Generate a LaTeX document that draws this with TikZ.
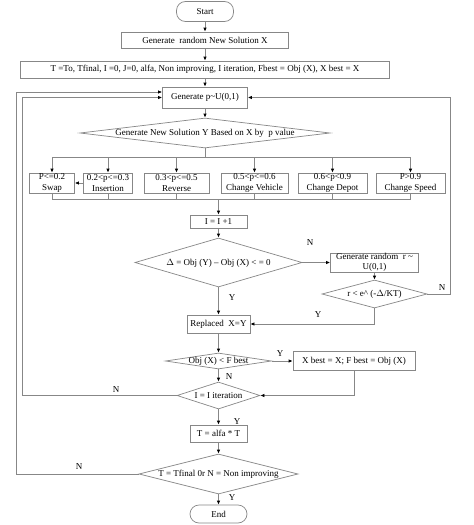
\documentclass[tikz,border=0pt]{standalone}
\usepackage{fontspec}
\setmainfont{Liberation Serif}
\usetikzlibrary{shapes.geometric,arrows.meta}
\definecolor{lgray}{RGB}{135,135,135}
\newcommand\fs{\fontsize{9}{10.5}\selectfont}
\newcommand\dtxt[1]{\smash{\makebox[0pt]{\raisebox{-0.32em}{#1}}}}
\tikzset{
  ln/.style={draw=lgray, line width=0.7pt},
  arr/.style={ln, -{Latex[length=4pt,width=3.4pt,color=black]}},
  box/.style={draw=lgray, line width=0.7pt, rectangle, inner sep=0pt, align=center, font=\fs},
  term/.style={box, rounded corners=9pt},
  dia/.style={draw=lgray, line width=0.7pt, diamond, inner sep=0pt, font=\fs},
  lab/.style={font=\fs, inner sep=0pt}
}
\begin{document}
\begin{tikzpicture}[x=1pt,y=-1pt]
\useasboundingbox[fill=white] (0,0) rectangle (474,525);
% top column
\node[term, minimum width=57pt, minimum height=20pt] (start) at (205,11.5) {Start};
\node[box, minimum width=167pt, minimum height=16pt] (gen) at (205,40) {Generate \ random New Solution X};
\node[box, minimum width=369pt, minimum height=17pt] (init) at (205,69.5) {T =To, Tfinal, I =0, J=0, alfa, Non improving, I iteration, Fbest = Obj (X), X best = X};
\node[box, minimum width=85pt, minimum height=21pt] (genp) at (205,97.5) {Generate p\textasciitilde U(0,1)};
\node[dia, minimum width=250pt, minimum height=30pt] (d1) at (205,133) {\dtxt{Generate New Solution Y Based on X by \ p value}};
% row of operators
\node[box, minimum width=45pt, minimum height=20pt] (b1) at (52,183) {P<=0.2\\Swap};
\node[box, minimum width=49pt, minimum height=20pt] (b2) at (108,183) {0.2<p<=0.3\\Insertion};
\node[box, minimum width=65pt, minimum height=20pt] (b3) at (176.5,183) {0.3<p<=0.5\\Reverse};
\node[box, minimum width=67pt, minimum height=20pt] (b4) at (254.5,183) {0.5<p<=0.6\\Change Vehicle};
\node[box, minimum width=69pt, minimum height=20pt] (b5) at (332.5,183) {0.6<p<0.9\\Change Depot};
\node[box, minimum width=69pt, minimum height=20pt] (b6) at (410.5,183) {P>0.9\\Change Speed};
\coordinate (split) at (205,157);
\coordinate (join) at (218.5,199);
% lower column
\node[box, minimum width=57pt, minimum height=13pt] (inc) at (218.5,221.5) {I = I +1};
\node[dia, minimum width=167pt, minimum height=49pt] (d2) at (218.5,262.5) {\dtxt{$\Delta$ = Obj (Y) -- Obj (X) < = 0}};
\node[box, minimum width=88pt, minimum height=19pt, font=\fontsize{9}{10}\selectfont] (rbox) at (374.5,262.5) {Generate random \ r \textasciitilde\\U(0,1)};
\node[dia, minimum width=105pt, minimum height=28pt] (d3) at (374.5,294) {\dtxt{r < e\textasciicircum\ (-$\Delta$/KT)}};
\node[box, minimum width=63pt, minimum height=18pt] (repl) at (218.5,324) {Replaced \ X=Y};
\node[dia, minimum width=106pt, minimum height=16pt] (d4) at (218.5,361) {\dtxt{Obj (X) < F best}};
\node[box, minimum width=122pt, minimum height=19pt] (xb) at (354,361) {X best = X; F best = Obj (X)};
\node[dia, minimum width=83pt, minimum height=27pt] (d5) at (218.5,395.5) {\dtxt{I = I iteration}};
\node[box, minimum width=57pt, minimum height=17pt] (talfa) at (218.5,433.5) {T = alfa * T};
\node[dia, minimum width=159pt, minimum height=40pt] (d6) at (218.5,474) {\dtxt{T = Tfinal 0r N = Non improving}};
\node[term, minimum width=57pt, minimum height=18pt] (end) at (218.5,514) {End};
\coordinate (rr) at (450,0);
\coordinate (li) at (22,0);
\coordinate (lo) at (16,0);
% connectors top
\draw[arr] (start.south) -- (gen.north);
\draw[arr] (gen.south) -- (init.north);
\draw[arr] (init.south) -- (genp.north);
\draw[arr] (genp.south) -- (d1.north);
\draw[ln] (d1.south) -- (split);
\draw[ln] (b1.north |- split) -- (b6.north |- split);
\foreach \b in {b1,b2,b3,b4,b5,b6}{
  \draw[arr] (\b.north |- split) -- (\b.north);
  \draw[ln] (\b.south) -- (\b.south |- join);
}
\draw[ln] (b1.south |- join) -- (b6.south |- join);
\draw[arr] (b2.west) -- (b1.east);
\draw[arr] (join) -- (inc.north);
% lower
\draw[arr] (inc.south) -- (d2.north);
\draw[arr] (d2.east) -- (rbox.west);
\draw[arr] (rbox.south) -- (d3.north);
\draw[arr] (d3.east) -- (d3.east -| rr) -- (rr |- genp.east) -- (genp.east);
\draw[arr] (d3.south) |- (repl.east);
\draw[arr] (d2.south) -- (repl.north);
\draw[arr] (repl.south) -- (d4.north);
\draw[arr] (d4.east) -- (xb.west);
\draw[arr] (d4.south) -- (d5.north);
\draw[arr] (xb.south) |- (d5.east);
\draw[arr] (d5.west) -- (d5.west -| li) -- (li |- genp.west) -- (genp.west);
\draw[arr] (d5.south) -- (talfa.north);
\draw[arr] (talfa.south) -- (d6.north);
\draw[arr] (d6.south) -- (end.north);
\coordinate (gpo) at ([yshift=5.5pt]genp.west);
\draw[arr] (d6.west) -- (d6.west -| lo) -- (lo |- gpo) -- (gpo);
% labels
\node[lab] (n1) at (310,243) {N};
\node[lab] (n2) at (442,288) {N};
\node[lab] (y1) at (318,315) {Y};
\node[lab] (y2) at (232,298) {Y};
\node[lab] (y3) at (280,354) {Y};
\node[lab] (n3) at (229,377) {N};
\node[lab] (n4) at (116,390) {N};
\node[lab] (y4) at (237,422) {Y};
\node[lab] (n5) at (79,467) {N};
\node[lab] (y5) at (232,498) {Y};
\end{tikzpicture}
\end{document}
